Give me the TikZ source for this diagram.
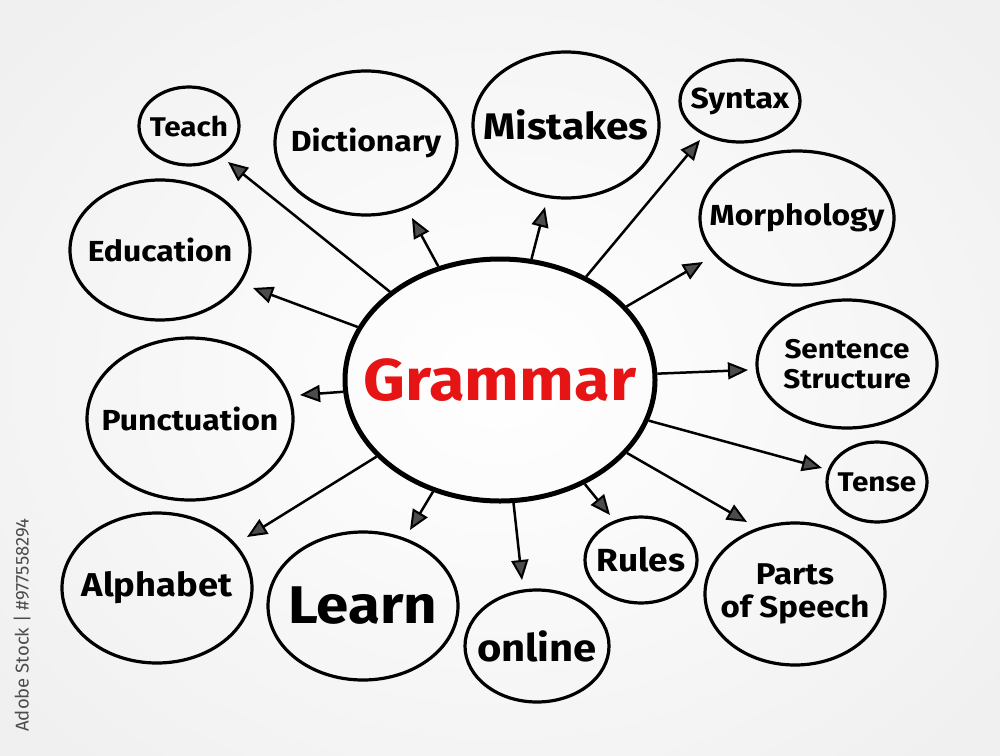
\documentclass[tikz,border=0pt]{standalone}
\usepackage{fontspec}
\setmainfont{Fira Sans}[FakeStretch=1.1]
\newfontfamily\plainfont{Fira Sans}
\usetikzlibrary{shapes.geometric,arrows.meta}
\definecolor{markred}{RGB}{230,20,20}
\newcommand{\fs}[1]{\fontsize{#1}{1.12\dimexpr#1pt\relax}\selectfont\bfseries}
\tikzset{
  bubble/.style={ellipse, draw, line width=3.2pt, inner sep=0pt},
  lbl/.style={font=\fs{#1}, align=center, inner sep=0pt},
  spoke/.style={line width=2.5pt, -{Triangle[length=20pt,width=17pt,fill=black!70,line width=2pt]}}
}
\begin{document}
\begin{tikzpicture}[x=1pt,y=-1pt]
  \useasboundingbox (0,0) rectangle (1000,755);
  \shade [inner color=white, outer color=black!6] (-150,-150) rectangle (1150,905);
  \node [rotate=90, text=black!70, font=\plainfont\fontsize{18.5}{20}\selectfont] (stock) at (22,625) {Adobe Stock | \#977558294};

  % centre
  \node [bubble, line width=5pt, minimum width=310pt, minimum height=242pt,
         label={[lbl=59, text=markred]center:Grammar}] (g) at (500,380) {};

  % outer bubbles
  \node [bubble, minimum width=100pt, minimum height=78pt, label={[lbl=27]center:Teach}] (teach) at (189,126) {};
  \node [bubble, minimum width=182pt, minimum height=144pt, label={[lbl=29]center:Dictionary}] (dict) at (366,143) {};
  \node [bubble, minimum width=186pt, minimum height=146pt, label={[lbl=37]center:Mistakes}] (mist) at (566,125) {};
  \node [bubble, minimum width=120pt, minimum height=82pt, label={[lbl=29]center:Syntax}] (syn) at (740,101) {};
  \node [bubble, minimum width=194pt, minimum height=134pt, label={[lbl=29]center:Morphology}] (morph) at (797,218) {};
  \node [bubble, minimum width=180pt, minimum height=128pt, label={[lbl=27]center:Sentence\\Structure}] (sent) at (847,364) {};
  \node [bubble, minimum width=100pt, minimum height=80pt, label={[lbl=27]center:Tense}] (tense) at (877,482) {};
  \node [bubble, minimum width=180pt, minimum height=142pt, label={[lbl=30]center:Parts\\of Speech}] (parts) at (795,594) {};
  \node [bubble, minimum width=112pt, minimum height=86pt, label={[lbl=32]center:Rules}] (rules) at (641,560) {};
  \node [bubble, minimum width=144pt, minimum height=112pt, label={[lbl=38]center:online}] (online) at (537,646) {};
  \node [bubble, minimum width=190pt, minimum height=148pt, label={[lbl=53]center:Learn}] (learn) at (363,606) {};
  \node [bubble, minimum width=190pt, minimum height=150pt, label={[lbl=33]center:Alphabet}] (alpha) at (157,588) {};
  \node [bubble, minimum width=206pt, minimum height=162pt, label={[lbl=29]center:Punctuation}] (punct) at (190,419) {};
  \node [bubble, minimum width=180pt, minimum height=140pt, label={[lbl=29]center:Education}] (edu) at (160,250) {};

  % arrow tips
  \coordinate (tTeach) at (228,162);
  \coordinate (tEdu) at (253,288);
  \coordinate (tPunct) at (300,395);
  \coordinate (tAlpha) at (247,537);
  \coordinate (tLearn) at (410,530);
  \coordinate (tOnline) at (522,580);
  \coordinate (tRules) at (610,515);
  \coordinate (tParts) at (747,522);
  \coordinate (tTense) at (822,468);
  \coordinate (tSent) at (748,370);
  \coordinate (tMorph) at (703,262);
  \coordinate (tSyn) at (700,140);
  \coordinate (tMist) at (545,207);
  \coordinate (tDict) at (412,218);

  \foreach \t in {tTeach,tEdu,tPunct,tAlpha,tLearn,tOnline,tRules,tParts,tTense,tSent,tMorph,tSyn,tMist,tDict}
    \draw [spoke] (g) -- (\t);
\end{tikzpicture}
\end{document}
